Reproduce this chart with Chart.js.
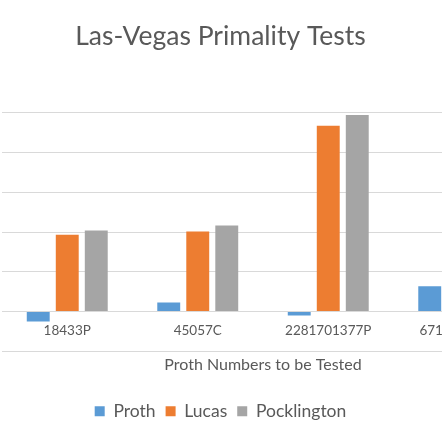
<html lang="en">
<head>
<meta charset="UTF-8">
<title>Las-Vegas Primality Tests</title>
<script src="https://cdn.jsdelivr.net/npm/chart.js"></script>
<style>
  html, body { margin: 0; padding: 0; overflow: hidden; background: #fff; }
  #wrap { position: absolute; left: -83px; top: 0; width: 607px; height: 442px; }
</style>
</head>
<body>
<div id="wrap"><canvas id="myChart"></canvas></div>
<script>
// tested numbers (the last one is cut off at the right edge)
let labels = ["18433P", "45057C", "2281701377P", "671088641P"];

// values on a log axis, bars start at 1
let proth = [0.56, 1.69, 0.79, 4.3];
let lucas = [86, 103, 47200, 210];
let pocklington = [109, 146, 88000, 260];

let grey = "#595959";

function isDecade(v) {
    let l = Math.log10(v);
    return Math.abs(l - Math.round(l)) < 1e-6;
}

let ctx = document.getElementById("myChart").getContext("2d");
let myChart = new Chart(ctx, {
    type: "bar",
    data: {
        labels: labels,
        datasets: [
            { label: "Proth", data: proth, backgroundColor: "#5B9BD5", base: 1 },
            { label: "Lucas", data: lucas, backgroundColor: "#ED7D31", base: 1 },
            { label: "Pocklington", data: pocklington, backgroundColor: "#A5A5A5", base: 1 }
        ]
    },
    options: {
        responsive: true,
        maintainAspectRatio: false,
        animation: false,
        barPercentage: 0.79,
        categoryPercentage: 0.667,
        layout: { padding: { left: 0, right: 0, top: 0, bottom: 12 } },
        plugins: {
            title: {
                display: true,
                text: "Las-Vegas Primality Tests",
                color: grey,
                font: { family: "Lato", size: 26.5, weight: "normal" },
                padding: { top: 21, bottom: 60 }
            },
            legend: {
                position: "bottom",
                labels: {
                    color: grey,
                    font: { family: "Lato", size: 17.5 },
                    boxWidth: 10,
                    boxHeight: 10,
                    padding: 10
                }
            },
            tooltip: { enabled: false }
        },
        scales: {
            x: {
                type: "category",
                position: { y: 1 },
                grid: { display: false, drawTicks: false },
                border: { display: false },
                ticks: {
                    color: grey,
                    font: { family: "Lato", size: 13.5 },
                    padding: 11,
                    maxRotation: 0,
                    autoSkip: false
                }
            },
            x2: {
                type: "category",
                position: "bottom",
                offset: true,
                grid: { display: false, drawTicks: false },
                border: { display: false },
                ticks: { display: false },
                title: {
                    display: true,
                    text: "Proth Numbers to be Tested",
                    color: grey,
                    font: { family: "Lato", size: 16 },
                    padding: { top: 4, bottom: 18 }
                }
            },
            y: {
                type: "logarithmic",
                min: 0.1,
                max: 100000,
                border: { display: false },
                ticks: { display: false },
                grid: {
                    drawTicks: false,
                    lineWidth: 1,
                    color: c => (c.tick && isDecade(c.tick.value)) ? "#D9D9D9" : "rgba(0,0,0,0)"
                },
                // the left part of the plot is cut off, keep an empty strip there
                afterFit: s => { s.width = 85; }
            }
        }
    }
});
</script>
</body>
</html>
